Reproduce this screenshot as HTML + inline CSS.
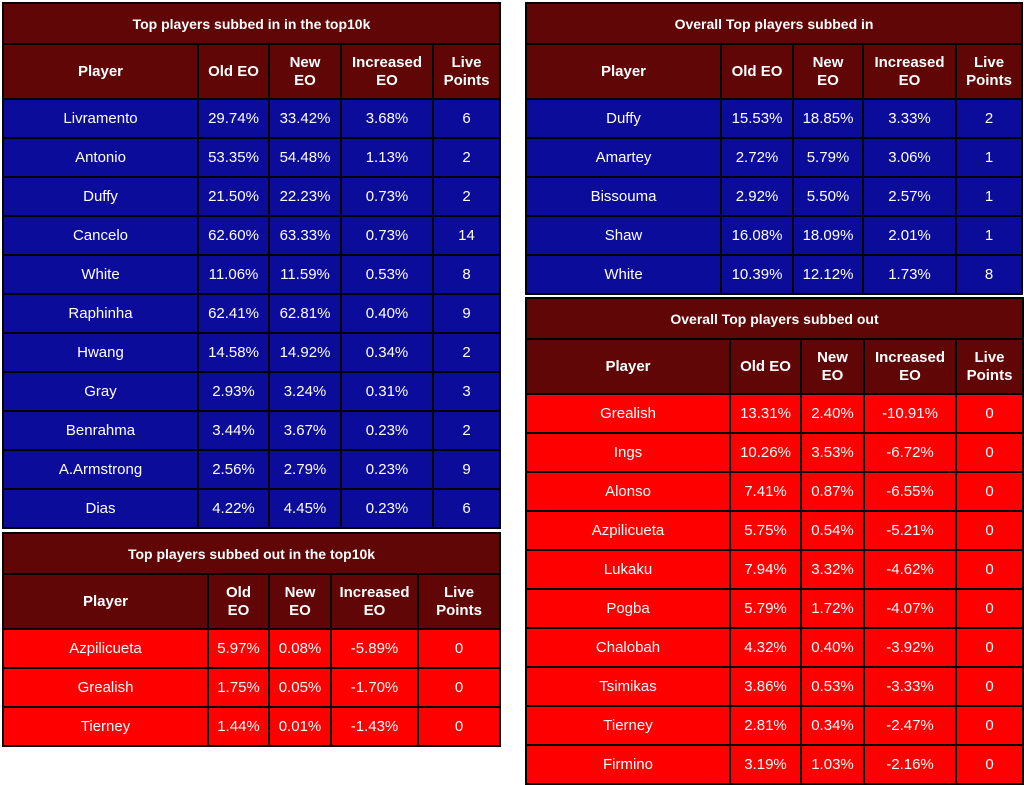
<!DOCTYPE html>
<html><head><meta charset="utf-8"><style>
body{margin:0;width:1024px;height:783px;background:#fff;overflow:hidden;font-family:"Liberation Sans",Arial,sans-serif;}
table{position:absolute;border-collapse:collapse;table-layout:fixed;color:#fff;}
td,th{border:2px solid #000;text-align:center;padding:0;font-size:15px;overflow:hidden;}
th{background:#600606;font-weight:bold;line-height:18px;}
.t th{height:39px;font-size:14px}
.h th{height:53px}
.b td{background:#0c0c9a;height:37px}
.r td{background:#ff0000;height:37px}
</style></head><body>

<table style="left:2px;top:2px;width:497px">
<colgroup><col style="width:195px"><col style="width:71px"><col style="width:72px"><col style="width:92px"><col style="width:67px"></colgroup>
<tr class="t"><th colspan="5">Top players subbed in in the top10k</th></tr>
<tr class="h"><th>Player</th><th>Old EO</th><th>New<br>EO</th><th>Increased<br>EO</th><th>Live<br>Points</th></tr>
<tr class="b"><td>Livramento</td><td>29.74%</td><td>33.42%</td><td>3.68%</td><td>6</td></tr>
<tr class="b"><td>Antonio</td><td>53.35%</td><td>54.48%</td><td>1.13%</td><td>2</td></tr>
<tr class="b"><td>Duffy</td><td>21.50%</td><td>22.23%</td><td>0.73%</td><td>2</td></tr>
<tr class="b"><td>Cancelo</td><td>62.60%</td><td>63.33%</td><td>0.73%</td><td>14</td></tr>
<tr class="b"><td>White</td><td>11.06%</td><td>11.59%</td><td>0.53%</td><td>8</td></tr>
<tr class="b"><td>Raphinha</td><td>62.41%</td><td>62.81%</td><td>0.40%</td><td>9</td></tr>
<tr class="b"><td>Hwang</td><td>14.58%</td><td>14.92%</td><td>0.34%</td><td>2</td></tr>
<tr class="b"><td>Gray</td><td>2.93%</td><td>3.24%</td><td>0.31%</td><td>3</td></tr>
<tr class="b"><td>Benrahma</td><td>3.44%</td><td>3.67%</td><td>0.23%</td><td>2</td></tr>
<tr class="b"><td>A.Armstrong</td><td>2.56%</td><td>2.79%</td><td>0.23%</td><td>9</td></tr>
<tr class="b"><td>Dias</td><td>4.22%</td><td>4.45%</td><td>0.23%</td><td>6</td></tr>
</table>

<table style="left:2px;top:532px;width:497px">
<colgroup><col style="width:205px"><col style="width:61px"><col style="width:62px"><col style="width:87px"><col style="width:82px"></colgroup>
<tr class="t"><th colspan="5">Top players subbed out in the top10k</th></tr>
<tr class="h"><th>Player</th><th>Old<br>EO</th><th>New<br>EO</th><th>Increased<br>EO</th><th>Live<br>Points</th></tr>
<tr class="r"><td>Azpilicueta</td><td>5.97%</td><td>0.08%</td><td>-5.89%</td><td>0</td></tr>
<tr class="r"><td>Grealish</td><td>1.75%</td><td>0.05%</td><td>-1.70%</td><td>0</td></tr>
<tr class="r"><td>Tierney</td><td>1.44%</td><td>0.01%</td><td>-1.43%</td><td>0</td></tr>
</table>

<table style="left:525px;top:2px;width:496px">
<colgroup><col style="width:195px"><col style="width:72px"><col style="width:70px"><col style="width:93px"><col style="width:66px"></colgroup>
<tr class="t"><th colspan="5">Overall Top players subbed in</th></tr>
<tr class="h"><th>Player</th><th>Old EO</th><th>New<br>EO</th><th>Increased<br>EO</th><th>Live<br>Points</th></tr>
<tr class="b"><td>Duffy</td><td>15.53%</td><td>18.85%</td><td>3.33%</td><td>2</td></tr>
<tr class="b"><td>Amartey</td><td>2.72%</td><td>5.79%</td><td>3.06%</td><td>1</td></tr>
<tr class="b"><td>Bissouma</td><td>2.92%</td><td>5.50%</td><td>2.57%</td><td>1</td></tr>
<tr class="b"><td>Shaw</td><td>16.08%</td><td>18.09%</td><td>2.01%</td><td>1</td></tr>
<tr class="b"><td>White</td><td>10.39%</td><td>12.12%</td><td>1.73%</td><td>8</td></tr>
</table>

<table style="left:525px;top:297px;width:497px">
<colgroup><col style="width:204px"><col style="width:71px"><col style="width:63px"><col style="width:92px"><col style="width:67px"></colgroup>
<tr class="t"><th colspan="5">Overall Top players subbed out</th></tr>
<tr class="h"><th>Player</th><th>Old EO</th><th>New<br>EO</th><th>Increased<br>EO</th><th>Live<br>Points</th></tr>
<tr class="r"><td>Grealish</td><td>13.31%</td><td>2.40%</td><td>-10.91%</td><td>0</td></tr>
<tr class="r"><td>Ings</td><td>10.26%</td><td>3.53%</td><td>-6.72%</td><td>0</td></tr>
<tr class="r"><td>Alonso</td><td>7.41%</td><td>0.87%</td><td>-6.55%</td><td>0</td></tr>
<tr class="r"><td>Azpilicueta</td><td>5.75%</td><td>0.54%</td><td>-5.21%</td><td>0</td></tr>
<tr class="r"><td>Lukaku</td><td>7.94%</td><td>3.32%</td><td>-4.62%</td><td>0</td></tr>
<tr class="r"><td>Pogba</td><td>5.79%</td><td>1.72%</td><td>-4.07%</td><td>0</td></tr>
<tr class="r"><td>Chalobah</td><td>4.32%</td><td>0.40%</td><td>-3.92%</td><td>0</td></tr>
<tr class="r"><td>Tsimikas</td><td>3.86%</td><td>0.53%</td><td>-3.33%</td><td>0</td></tr>
<tr class="r"><td>Tierney</td><td>2.81%</td><td>0.34%</td><td>-2.47%</td><td>0</td></tr>
<tr class="r"><td>Firmino</td><td>3.19%</td><td>1.03%</td><td>-2.16%</td><td>0</td></tr>
</table>
</body></html>
